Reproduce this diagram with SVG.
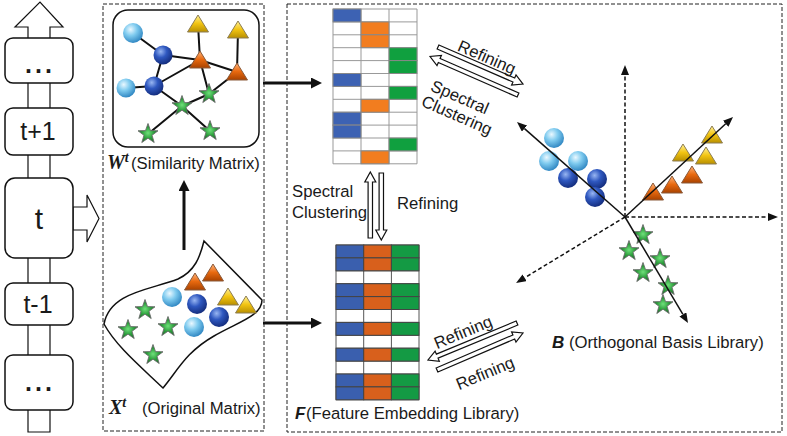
<svg xmlns="http://www.w3.org/2000/svg" width="787" height="436" viewBox="0 0 787 436">
<defs>
<style>
text{font-family:"Liberation Sans",Arial,sans-serif;fill:#1a1a1a}
.lbl{font-size:16.7px}
.tl{font-size:25px;text-anchor:middle}
.mi{font-family:"Liberation Serif","Times New Roman",serif;font-weight:bold;font-style:italic}
.bi{font-weight:bold;font-style:italic}
.box{fill:#fff;stroke:#111;stroke-width:1.5}
.hollow{fill:#fff;stroke:#111;stroke-width:1.2}
.dash{fill:none;stroke:#222;stroke-width:1;stroke-dasharray:4 2}
.edge{stroke:#111;stroke-width:2;fill:none}
.conn{stroke:#111;stroke-width:3;fill:none}
.axd{stroke:#111;stroke-width:1.5;stroke-dasharray:4 2.5;fill:none}
.axs{stroke:#111;stroke-width:1.5;fill:none}
.g1{fill:none;stroke:#999;stroke-width:1}
.g2{fill:none;stroke:#555;stroke-width:1}
.cb{fill:#3d62b3;stroke:#888;stroke-width:1}
.co{fill:#f27d1f;stroke:#888;stroke-width:1}
.cg{fill:#10a03f;stroke:#888;stroke-width:1}
.db{fill:#3a5fae;stroke:#444;stroke-width:1}
.do{fill:#d8601c;stroke:#444;stroke-width:1}
.dg{fill:#149a44;stroke:#444;stroke-width:1}
.lb{fill:url(#gLB)}
.kb{fill:url(#gDB)}
.ty{fill:url(#gY);stroke:#8c7d52;stroke-width:1}
.to{fill:url(#gO);stroke:#8a5a3a;stroke-width:1}
.st{fill:url(#gS);stroke:#6b6b6b;stroke-width:0.9}
</style>
<radialGradient id="gLB" cx="0.38" cy="0.32" r="0.7">
<stop offset="0" stop-color="#eaf8ff"/><stop offset="0.45" stop-color="#7fcbef"/><stop offset="1" stop-color="#2f86c2"/>
</radialGradient>
<radialGradient id="gDB" cx="0.38" cy="0.32" r="0.7">
<stop offset="0" stop-color="#98b6f2"/><stop offset="0.45" stop-color="#2f58c0"/><stop offset="1" stop-color="#132c7c"/>
</radialGradient>
<linearGradient id="gY" x1="0" y1="0" x2="0" y2="1">
<stop offset="0" stop-color="#fff19a"/><stop offset="0.5" stop-color="#f2c412"/><stop offset="1" stop-color="#b88f00"/>
</linearGradient>
<linearGradient id="gO" x1="0" y1="0" x2="0" y2="1">
<stop offset="0" stop-color="#ffb37a"/><stop offset="0.5" stop-color="#e8690f"/><stop offset="1" stop-color="#a84200"/>
</linearGradient>
<radialGradient id="gS" cx="0.5" cy="0.5" r="0.6">
<stop offset="0" stop-color="#6fe07a"/><stop offset="0.5" stop-color="#2c9d3c"/><stop offset="1" stop-color="#1b6228"/>
</radialGradient>
<path id="star" d="M0,-10.5 L2.5,-3.4 L10,-3.2 L4,1.3 L6.2,8.5 L0,4.2 L-6.2,8.5 L-4,1.3 L-10,-3.2 L-2.5,-3.4 Z"/>
<path id="tri" d="M0,-9 L10.5,8 L-10.5,8 Z"/>
<marker id="ahb" viewBox="0 0 11 11" refX="0" refY="5.5" markerWidth="11" markerHeight="11" markerUnits="userSpaceOnUse" orient="auto">
<path d="M0,0 L11,5.5 L0,11 Z" fill="#111"/>
</marker>
<marker id="ah" viewBox="0 0 10 8" refX="0" refY="4" markerWidth="10" markerHeight="8" markerUnits="userSpaceOnUse" orient="auto">
<path d="M0,0 L10,4 L0,8 Z" fill="#111"/>
</marker>
</defs>
<rect width="787" height="436" fill="#fff"/>

<!-- timeline -->
<g id="timeline">
<polygon class="hollow" points="28,432 28,27 15,27 40,2 63,27 50,27 50,432"/>
<polygon class="hollow" points="73,207 87,207 87,195 99,218.5 87,242 87,230 73,230"/>
</g>
<g id="box-top-dots"><rect class="box" x="5" y="38" width="68" height="45" rx="8"/><text class="tl" x="40" y="73" font-weight="bold" letter-spacing="3">...</text></g>
<g id="box-t-plus-1"><rect class="box" x="5" y="108" width="68" height="47" rx="8"/><text class="tl" x="38" y="140">t+1</text></g>
<g id="box-t"><rect class="box" x="5" y="178" width="68" height="80" rx="10"/><text class="tl" x="39" y="229" style="font-size:30px">t</text></g>
<g id="box-t-minus-1"><rect class="box" x="5" y="283" width="68" height="42" rx="8"/><text class="tl" x="38" y="313">t-1</text></g>
<g id="box-bottom-dots"><rect class="box" x="5" y="355" width="68" height="55" rx="8"/><text class="tl" x="40" y="391" font-weight="bold" letter-spacing="3">...</text></g>

<!-- panels -->
<g id="panel-middle"><rect class="dash" x="103" y="4" width="161" height="427"/></g>
<g id="panel-right"><rect class="dash" x="287" y="4" width="495" height="428"/></g>

<!-- similarity matrix -->
<g id="similarity-matrix">
<rect class="box" x="113" y="10" width="146" height="137" rx="15"/>
<path class="edge" d="M133,33L163,55 M163,55L154,86 M163,55L200,60 M126,88L154,86 M154,86L200,60 M198,24L200,60 M200,60L237,72 M200,60L209,94 M238,30L237,72 M237,72L209,94 M209,94L182,106 M154,86L182,106 M182,106L148,134 M182,106L210,131"/>
<circle class="lb" cx="133" cy="33" r="10"/>
<circle class="lb" cx="126" cy="88" r="9.5"/>
<circle class="kb" cx="163" cy="55" r="9.5"/>
<circle class="kb" cx="154" cy="86" r="9.5"/>
<use href="#tri" class="ty" x="198" y="24"/>
<use href="#tri" class="ty" x="238" y="30"/>
<use href="#tri" class="to" x="200" y="60"/>
<use href="#tri" class="to" x="237" y="72"/>
<use href="#star" class="st" x="209" y="94"/>
<use href="#star" class="st" x="182" y="106"/>
<use href="#star" class="st" x="148" y="134"/>
<use href="#star" class="st" x="210" y="131"/>
<text x="107" y="169"><tspan class="mi" style="font-size:20px">W</tspan><tspan class="mi" style="font-size:14px" dy="-7">t</tspan><tspan class="lbl" x="131" dy="7">(Similarity Matrix)</tspan></text>
</g>

<!-- original matrix -->
<g id="original-matrix">
<path class="box" d="M104,324 C110,292 150,290 178,279 C195,271 200,257 204,241 L262,300 C262,316 238,322 214,336 C186,352 178,370 163,388 C140,366 116,346 104,324 Z"/>
<use href="#tri" class="to" x="195" y="282"/>
<use href="#tri" class="to" x="213" y="273"/>
<use href="#tri" class="ty" x="228" y="297"/>
<use href="#tri" class="ty" x="246" y="305"/>
<circle class="lb" cx="172" cy="297" r="10"/>
<circle class="kb" cx="197" cy="304" r="10"/>
<circle class="kb" cx="219" cy="317" r="10"/>
<circle class="lb" cx="194" cy="327" r="10"/>
<use href="#star" class="st" x="145" y="310"/>
<use href="#star" class="st" x="128" y="330"/>
<use href="#star" class="st" x="168" y="327"/>
<use href="#star" class="st" x="153" y="355"/>
<text x="109" y="414"><tspan class="mi" style="font-size:20px">X</tspan><tspan class="mi" style="font-size:14px" dy="-7">t</tspan><tspan class="lbl" x="142" dy="7">(Original Matrix)</tspan></text>
</g>

<!-- cluster indicator matrix -->
<g id="cluster-matrix">
<rect x="333" y="9" width="84" height="154.8" fill="#fff"/>
<path class="g1" d="M333,9H417M333,21.9H417M333,34.8H417M333,47.7H417M333,60.6H417M333,73.5H417M333,86.4H417M333,99.3H417M333,112.2H417M333,125.1H417M333,138H417M333,150.9H417M333,163.8H417M333,9V163.8M361,9V163.8M389,9V163.8M417,9V163.8"/>
<rect class="cb" x="333" y="9" width="28" height="12.9"/>
<rect class="co" x="361" y="21.9" width="28" height="12.9"/>
<rect class="co" x="361" y="34.8" width="28" height="12.9"/>
<rect class="cg" x="389" y="47.7" width="28" height="12.9"/>
<rect class="cg" x="389" y="60.6" width="28" height="12.9"/>
<rect class="cb" x="333" y="73.5" width="28" height="12.9"/>
<rect class="cg" x="389" y="86.4" width="28" height="12.9"/>
<rect class="co" x="361" y="99.3" width="28" height="12.9"/>
<rect class="cb" x="333" y="112.2" width="28" height="12.9"/>
<rect class="cb" x="333" y="125.1" width="28" height="12.9"/>
<rect class="cg" x="389" y="138" width="28" height="12.9"/>
<rect class="co" x="361" y="150.9" width="28" height="12.9"/>
</g>

<!-- feature embedding matrix -->
<g id="feature-embedding">
<rect x="336" y="245" width="83" height="154.8" fill="#fff"/>
<path class="g2" d="M336,245H419M336,257.9H419M336,270.8H419M336,283.7H419M336,296.6H419M336,309.5H419M336,322.4H419M336,335.3H419M336,348.2H419M336,361.1H419M336,374H419M336,386.9H419M336,399.8H419M336,245V399.8M363.7,245V399.8M391.4,245V399.8M419,245V399.8"/>
<g>
<rect class="db" x="336" y="245" width="27.7" height="12.9"/><rect class="do" x="363.7" y="245" width="27.7" height="12.9"/><rect class="dg" x="391.4" y="245" width="27.6" height="12.9"/>
<rect class="db" x="336" y="257.9" width="27.7" height="12.9"/><rect class="do" x="363.7" y="257.9" width="27.7" height="12.9"/><rect class="dg" x="391.4" y="257.9" width="27.6" height="12.9"/>
<rect class="db" x="336" y="283.7" width="27.7" height="12.9"/><rect class="do" x="363.7" y="283.7" width="27.7" height="12.9"/><rect class="dg" x="391.4" y="283.7" width="27.6" height="12.9"/>
<rect class="db" x="336" y="296.6" width="27.7" height="12.9"/><rect class="do" x="363.7" y="296.6" width="27.7" height="12.9"/><rect class="dg" x="391.4" y="296.6" width="27.6" height="12.9"/>
<rect class="db" x="336" y="322.4" width="27.7" height="12.9"/><rect class="do" x="363.7" y="322.4" width="27.7" height="12.9"/><rect class="dg" x="391.4" y="322.4" width="27.6" height="12.9"/>
<rect class="db" x="336" y="348.2" width="27.7" height="12.9"/><rect class="do" x="363.7" y="348.2" width="27.7" height="12.9"/><rect class="dg" x="391.4" y="348.2" width="27.6" height="12.9"/>
<rect class="db" x="336" y="374" width="27.7" height="12.9"/><rect class="do" x="363.7" y="374" width="27.7" height="12.9"/><rect class="dg" x="391.4" y="374" width="27.6" height="12.9"/>
<rect class="db" x="336" y="386.9" width="27.7" height="12.9"/><rect class="do" x="363.7" y="386.9" width="27.7" height="12.9"/><rect class="dg" x="391.4" y="386.9" width="27.6" height="12.9"/>
</g>
<text x="295" y="419"><tspan class="bi" style="font-size:17px">F</tspan><tspan class="lbl" x="306">(Feature Embedding Library)</tspan></text>
</g>

<!-- orthogonal basis -->
<g id="orthogonal-basis">
<path class="axd" d="M625,217V75" marker-end="url(#ah)"/>
<path class="axd" d="M625,217H768" marker-end="url(#ah)"/>
<path class="axd" d="M625,217L524.6,277.8" marker-end="url(#ah)"/>
<circle class="lb" cx="554" cy="138" r="10"/>
<circle class="lb" cx="549" cy="161" r="10"/>
<circle class="lb" cx="578" cy="161" r="10"/>
<circle class="kb" cx="568" cy="178" r="10"/>
<circle class="kb" cx="597" cy="179" r="10"/>
<circle class="kb" cx="595" cy="197" r="10"/>
<use href="#tri" class="ty" x="712" y="135"/>
<use href="#tri" class="ty" x="683" y="153"/>
<use href="#tri" class="ty" x="706" y="156"/>
<use href="#tri" class="to" x="692" y="175"/>
<use href="#tri" class="to" x="672" y="185"/>
<use href="#tri" class="to" x="653" y="192"/>
<use href="#star" class="st" x="643" y="235"/>
<use href="#star" class="st" x="629" y="251"/>
<use href="#star" class="st" x="660" y="259"/>
<use href="#star" class="st" x="643" y="273"/>
<use href="#star" class="st" x="668" y="286"/>
<use href="#star" class="st" x="663" y="305"/>
<path class="axs" d="M625,217L524.5,128.6" marker-end="url(#ah)"/>
<path class="axs" d="M625,217L725.7,123.8" marker-end="url(#ah)"/>
<path class="axs" d="M625,217L682.9,314.4" marker-end="url(#ah)"/>
<text x="552" y="348"><tspan class="bi" style="font-size:17px">B</tspan><tspan class="lbl" x="569">(Orthogonal Basis Library)</tspan></text>
</g>

<!-- connectors -->
<g id="connectors">
<path class="conn" d="M184,250V191" marker-end="url(#ahb)"/>
<path class="conn" d="M263,83H311" marker-end="url(#ahb)"/>
<path class="conn" d="M263,323H311" marker-end="url(#ahb)"/>
<polygon class="hollow" transform="translate(370.3,238) rotate(-90)" points="0,-2.2 56,-2.2 56,-5.5 66,0 56,5.5 56,2.2 0,2.2"/>
<polygon class="hollow" transform="translate(381.3,173) rotate(90)" points="0,-2.2 57,-2.2 57,-5.5 67,0 57,5.5 57,2.2 0,2.2"/>
<polygon class="hollow" transform="translate(438,47) rotate(23.53)" points="0,-2.2 82.7,-2.2 82.7,-5.5 92.7,0 82.7,5.5 82.7,2.2 0,2.2"/>
<polygon class="hollow" transform="translate(518,95) rotate(203.63)" points="0,-2.2 86,-2.2 86,-5.5 96,0 86,5.5 86,2.2 0,2.2"/>
<polygon class="hollow" transform="translate(517,323) rotate(157.43)" points="0,-2.2 86.4,-2.2 86.4,-5.5 96.4,0 86.4,5.5 86.4,2.2 0,2.2"/>
<polygon class="hollow" transform="translate(437,370) rotate(-23.28)" points="0,-2.2 83.6,-2.2 83.6,-5.5 93.6,0 83.6,5.5 83.6,2.2 0,2.2"/>
<text class="lbl" x="292" y="197">Spectral</text>
<text class="lbl" x="292" y="218">Clustering</text>
<text class="lbl" x="397" y="209">Refining</text>
<text class="lbl" text-anchor="middle" transform="translate(487,57) rotate(23.5)" dy="0.35em">Refining</text>
<text class="lbl" text-anchor="middle" transform="translate(460,97) rotate(23.5)" dy="0.35em">Spectral</text>
<text class="lbl" text-anchor="middle" transform="translate(457,115) rotate(23.5)" dy="0.35em">Clustering</text>
<text class="lbl" text-anchor="middle" transform="translate(463,332) rotate(-22.6)" dy="0.35em">Refining</text>
<text class="lbl" text-anchor="middle" transform="translate(485,373) rotate(-22.6)" dy="0.35em">Refining</text>
</g>
</svg>
